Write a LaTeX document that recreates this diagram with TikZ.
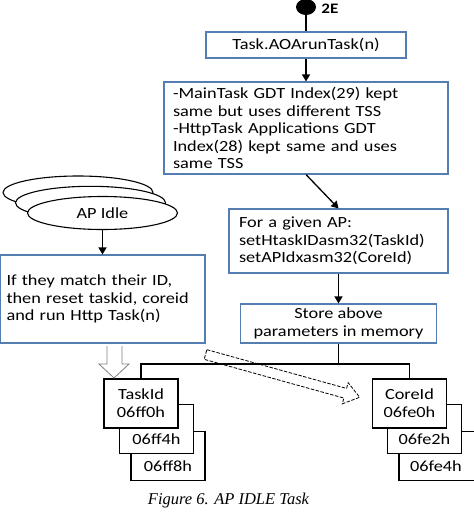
\documentclass[tikz,border=0pt]{standalone}
\usepackage{fontspec}
\setmainfont{Carlito}[FakeStretch=1.18]
\newfontfamily\capfont{Liberation Serif}
\usetikzlibrary{shapes.geometric,arrows.meta}
\definecolor{boxblue}{RGB}{84,126,178}
\definecolor{hollowgray}{RGB}{128,128,128}

\begin{document}
\begin{tikzpicture}[x=1pt,y=-1pt, line width=1.3pt, >={Triangle[length=7pt,width=8pt]}]
        \useasboundingbox (0,0) rectangle (474,512);

        \begin{scope}[every node/.style={draw=boxblue, line width=1.1pt, inner sep=0pt, font=\fontsize{15.5}{17.6}\selectfont}]
          \node (run)   at (306,45)    [minimum width=200pt, minimum height=26pt] {Task.AOArunTask(n)};
          \node (gdt)   at (306,128)   [minimum width=284pt, minimum height=92pt, text width=266pt, align=left]
                {-MainTask GDT Index(29) kept\\ same but uses different TSS\\ -HttpTask Applications GDT\\ Index(28) kept same and uses\\ same TSS};
          \node (ap)    at (338.5,241) [minimum width=219pt, minimum height=64pt, text width=199pt, align=left]
                {For a given AP:\\ setHtaskIDasm32(TaskId)\\ setAPIdxasm32(CoreId)};
          \node (store) at (338.5,323.5) [minimum width=196pt, minimum height=39pt, align=center]
                {Store above\\ parameters in memory};
          \node (match) at (102.5,299) [minimum width=205pt, minimum height=88pt, text width=192pt, align=left]
                {If they match their ID,\\ then reset taskid, coreid\\ and run Http Task(n)};
        \end{scope}

        \begin{scope}[every node/.style={ellipse, draw, fill=white, line width=1.1pt, minimum width=150pt, minimum height=33pt, font=\fontsize{15.5}{17.4}\selectfont}]
          \node (idle3) at (78,192.5)   {};
          \node (idle2) at (90.5,202.8) {};
          \node (idle)  at (102.5,213)  {AP Idle};
        \end{scope}

        \begin{scope}[every node/.style={draw, fill=white, line width=1.1pt, minimum width=74pt, minimum height=49pt, align=center, font=\fontsize{15.5}{18}\selectfont}]
          \node (tid8) at (168,456)     {};
          \node (tid4) at (156.5,429)   {};
          \node (tid)  at (141,403.5)   {TaskId\\06ff0h};
          \node (cid4) at (440,456) [minimum width=82pt] {};
          \node (cid2) at (424.5,429)   {};
          \node (cid)  at (409.5,403.5) {CoreId\\06fe0h};
        \end{scope}

        \begin{scope}[every node/.style={font=\fontsize{15.5}{18}\selectfont}]
          \node (tid4t) at ([yshift=15pt]tid4.south) {06ff4h};
          \node (tid8t) at ([yshift=15pt]tid8.south) {06ff8h};
          \node (cid2t) at ([yshift=15pt]cid2.south) {06fe2h};
          \node (cid4t) at ([xshift=-4pt,yshift=15pt]cid4.south) {06fe4h};
        \end{scope}

        \coordinate (top)  at (306,0);
        \coordinate (fork) at (338.5,364);

        \draw (top) -- (run.north);
        \node (dot) at (306,7) [ellipse, fill=black, minimum width=20pt, minimum height=16pt, inner sep=0pt] {};
        \node (e2)  at (330,9) [font=\bfseries\fontsize{14.5}{16}\selectfont] {2E};

        \path (run.south)   edge[->] (gdt.north);
        \path (gdt.south)   edge[->] (ap.north);
        \path (ap.south)    edge[->] (store.north);
        \path (idle.south)  edge[->] (match.north);
        \path (store.south) edge (fork);
        \draw (tid.north) |- (fork) -| (cid.north);

        \draw[hollowgray, line width=0.8pt, fill=white]
          (107,346) -- (107,364) -- (99,364) -- (114,378) -- (129,364) -- (122,364) -- (122,346);

        \begin{scope}[shift={(205.5,354.5)}, rotate=-15.5]
          \draw[line width=0.8pt, dash pattern=on 3.5pt off 1.5pt]
            (0,-5) -- (145,-5) -- (145,-11) -- (160,0) -- (145,11) -- (145,5) -- (0,5) -- cycle;
        \end{scope}

        \node (caption) at (228.5,501) [font=\capfont\itshape\fontsize{16.5}{18}\selectfont] {Figure 6. AP IDLE Task};
      \end{tikzpicture}
\end{document}
